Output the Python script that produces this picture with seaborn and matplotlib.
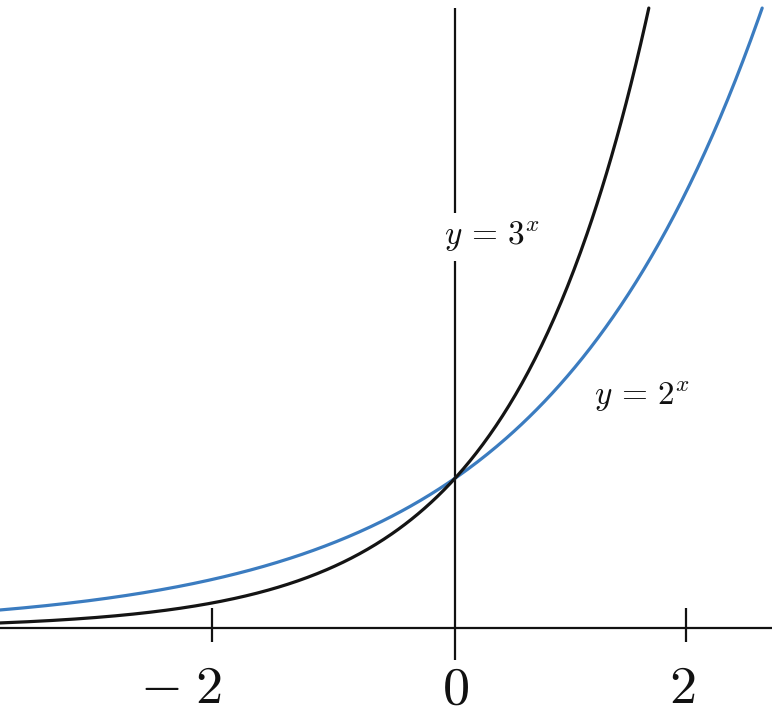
import numpy as np
import pandas as pd
import seaborn as sns
import matplotlib
matplotlib.use("Agg")
import matplotlib.pyplot as plt

sns.set_theme(style="white")
plt.rcParams['mathtext.fontset'] = 'cm'
plt.rcParams['font.family'] = ['DejaVu Sans']

# Data
bases = [2, 3]
series_names = ["y = 2^x", "y = 3^x"]
series_colors = ["#3b7cc0", "#141414"]
curve_labels = [r"$y\,=\,2^x$", r"$y\,=\,3^x$"]
label_xy = [(1.245, 1.545), (0.247, 2.61)]
tick_positions = [-1.62, 0.0, 1.54]
tick_labels = [r"$-\;2$", r"$0$", r"$2$"]
tick_label_x = [-1.83, 0.005, 1.515]
y_top = 4.135

xlim = (-455 / 150, 317 / 150)
ylim = (-95.7 / 150, 628.3 / 150)

frames = []
for b, name in zip(bases, series_names):
    xmax = np.log(y_top) / np.log(b)
    xs = np.linspace(xlim[0], xmax, 400)
    frames.append(pd.DataFrame({"x": xs, "y": b ** xs, "curve": name}))
df = pd.concat(frames, ignore_index=True)

fig = plt.figure(figsize=(7.72, 7.24), dpi=100)
ax = fig.add_axes([0, 0, 1, 1])
ax.set_xlim(*xlim)
ax.set_ylim(*ylim)
ax.axis("off")

# axes lines
ax.axhline(0, color="#111111", lw=1.6, zorder=1)
ax.vlines(0, -0.211, y_top, color="#111111", lw=1.6, zorder=1)

sns.lineplot(data=df, x="x", y="y", hue="curve", palette=dict(zip(series_names, series_colors)),
             hue_order=series_names, lw=2.3, legend=False, ax=ax, zorder=3, sort=False,
             estimator=None)

# ticks
for tp, tl, tx in zip(tick_positions, tick_labels, tick_label_x):
    if tp != 0.0:
        ax.vlines(tp, -0.09, 0.135, color="#111111", lw=1.6, zorder=1)
    ax.text(tx, -0.40, tl, fontsize=39, ha="center", va="center", color="#111111")

for (lx, ly), txt in zip(label_xy, curve_labels):
    ax.text(lx, ly, txt, fontsize=24, ha="center", va="center", color="#111111",
            bbox=dict(facecolor="white", edgecolor="none", pad=5), zorder=4)

fig.savefig("out.png", dpi=100)
